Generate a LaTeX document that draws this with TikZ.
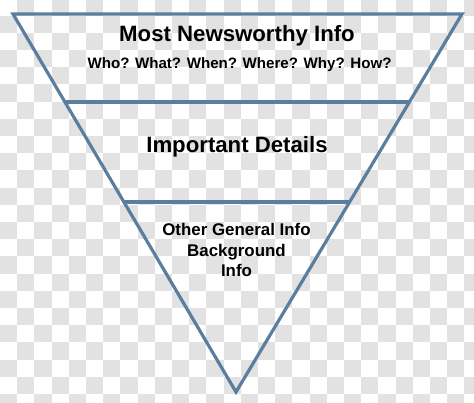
\documentclass[tikz,border=0pt]{standalone}
\usepackage{fontspec}
\setmainfont{Liberation Sans}
\usetikzlibrary{calc}
\definecolor{funnel}{RGB}{91,126,160}
\definecolor{checkgrey}{RGB}{226,226,226}
\tikzset{
	side/.style={line width=3.2pt, color=funnel, line join=miter},
	head/.style={font=\bfseries\fontsize{22.2}{26}\selectfont, inner sep=0pt},
	sub/.style={font=\bfseries\fontsize{15.1}{18}\selectfont, inner sep=0pt},
	body/.style={font=\bfseries\fontsize{16.9}{20.5}\selectfont, align=center, inner sep=0pt}
}
\begin{document}
\begin{tikzpicture}[x=1pt, y=-1pt]
			%%%%% START %%%%%
			\useasboundingbox (0, 0) rectangle (474, 403);
			\clip (0, 0) rectangle (474, 403);
			\fill[white] (0, 0) rectangle (474, 403);
			
			% checkered background
			\foreach \i in {0,...,27} {
				\foreach \j in {0,...,23} {
					\pgfmathparse{int(mod(\i+\j,2))}
					\ifnum\pgfmathresult=1
						\fill[checkgrey] (\i*17.2, \j*17.2-1.6) rectangle ++(17.2, 17.2);
					\fi
				}
			}
			
			\coordinate (tl) at (13, 14);
			\coordinate (tr) at (462, 14);
			\coordinate (apex) at (236, 392);
			
			\draw[side] (tl) -- (tr) -- (apex) -- cycle;
			\draw[side] ($(tl)!0.2328!(apex)$) -- ($(tr)!0.2328!(apex)$);
			\draw[side] ($(tl)!0.4974!(apex)$) -- ($(tr)!0.4974!(apex)$);
			
			\node[head, anchor=base] (newsworthy) at (237, 41.7) {Most Newsworthy Info};
			\node[sub, anchor=base] (questions) at (239.5, 69) {Who? What? When? Where? Why? How?};
			
			\node[head, anchor=base] (details) at (237, 152.7) {Important Details};
			
			% base of a multi-line node is its last line
			\node[body, anchor=base] (general) at (236.5, 277) {Other General Info\\Background\\Info};
			%%%%% END %%%%%
		\end{tikzpicture}
\end{document}
